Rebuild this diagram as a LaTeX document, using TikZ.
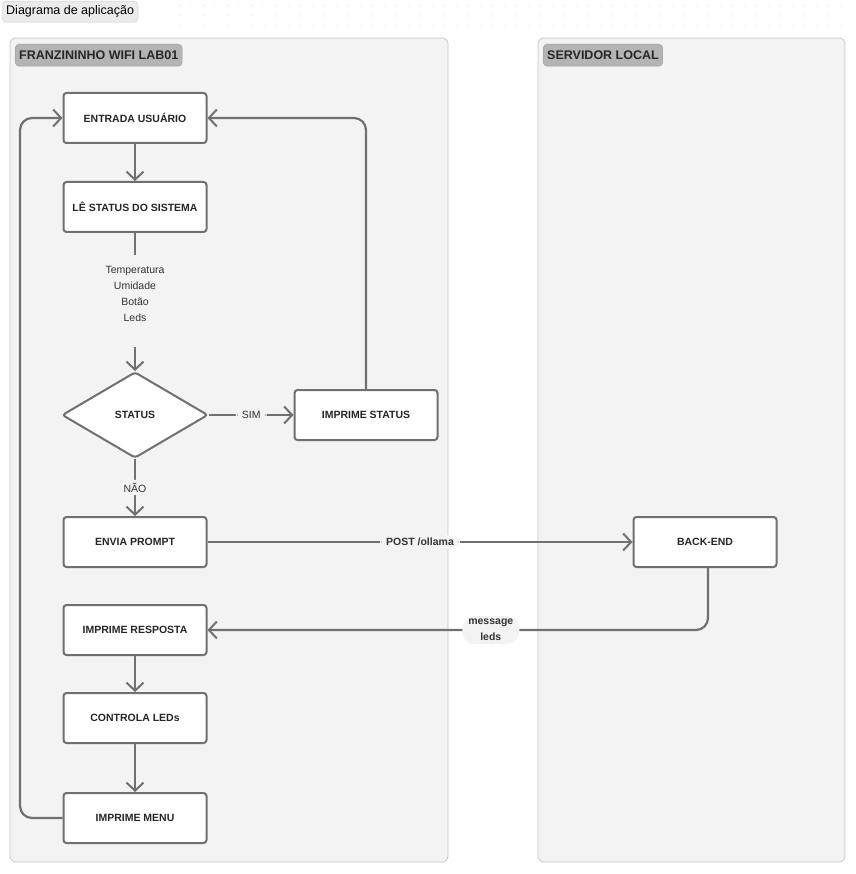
\documentclass[tikz,border=0pt]{standalone}
\usepackage{fontspec}
\setmainfont{Liberation Sans}
\usetikzlibrary{arrows.meta,shapes.geometric}
\definecolor{ln}{HTML}{707070}
\definecolor{pan}{HTML}{F3F3F3}
\definecolor{pb}{HTML}{C8C8C8}
\definecolor{tag}{HTML}{B4B4B4}
\begin{document}
\begin{tikzpicture}[x=1pt,y=-1pt,
  box/.style={draw=ln,line width=2pt,fill=white,rounded corners=3pt,minimum width=143pt,minimum height=50pt,font=\bfseries\fontsize{10.5}{12}\selectfont,text=black!85},
  con/.style={draw=ln,line width=2.2pt,rounded corners=12pt},
  arr/.style={con,-{Straight Barb[length=8pt,width=17pt,line width=2pt]}},
  lab/.style={fill=pan,font=\fontsize{10.5}{16}\selectfont,text=black!80,inner xsep=6pt,inner ysep=3pt,align=center},
  blab/.style={lab,font=\bfseries\fontsize{10.5}{16}\selectfont},
  panel/.style={draw=pb,fill=pan,rounded corners=6pt,line width=0.8pt},
  tagst/.style={draw=black!40,fill=tag,rounded corners=4pt,font=\bfseries\fontsize{12.5}{14}\selectfont,text=black!85,inner sep=4pt,anchor=north west,minimum height=22pt}]
\useasboundingbox (0,0) rectangle (855,874);
\fill[white] (0,0) rectangle (855,874);
\foreach \x in {180,192,...,850}{\foreach \y in {6,16,26}{\fill[black!25] (\x,\y) circle (0.5pt);}}
\node[draw=black!20,fill=black!8,rounded corners=4pt,anchor=north west,font=\fontsize{12.5}{14}\selectfont,inner sep=4pt,minimum height=21pt] (title) at (2,1) {Diagrama de aplicação};
\draw[panel] (10,38) rectangle (448,862);
\draw[panel] (538,38) rectangle (845,862);
\node[tagst] (t1) at (15,44) {FRANZININHO WIFI LAB01};
\node[tagst] (t2) at (543,44) {SERVIDOR LOCAL};
\node[box] (entrada) at (135,118) {ENTRADA USUÁRIO};
\node[box] (le) at (135,207) {LÊ STATUS DO SISTEMA};
\node[lab] (vars) at (135,294) {Temperatura\\Umidade\\Botão\\Leds};
\node[draw=ln,line width=2pt,fill=white,diamond,aspect=1.72,minimum width=146pt,minimum height=86pt,font=\bfseries\fontsize{10.5}{12}\selectfont,text=black!85,rounded corners=3pt] (status) at (135,415) {STATUS};
\node[box] (imps) at (366,415) {IMPRIME STATUS};
\node[box] (envia) at (135,542) {ENVIA PROMPT};
\node[box] (back) at (705,542) {BACK-END};
\node[box] (resp) at (135,630) {IMPRIME RESPOSTA};
\node[box] (ctrl) at (135,718) {CONTROLA LEDs};
\node[box] (menu) at (135,818) {IMPRIME MENU};
\coordinate (v1) at (135,347);
\draw[arr] (entrada) -- (le);
\draw[con] (le.south) -- ++(0,22);
\draw[arr] (v1) -- (status.north);
\draw[arr] (status.east) -- node[lab]{SIM} (imps.west);
\draw[arr] (status.south) -- node[lab]{NÃO} (envia.north);
\draw[arr] (imps.north) |- (entrada.east);
\draw[arr] (envia.east) -- node[blab]{POST /ollama} (back.west);
\draw[arr] ([xshift=3pt]back.south) |- node[blab,pos=0.717]{message\\leds} (resp.east);
\draw[arr] (resp) -- (ctrl);
\draw[arr] (ctrl) -- (menu);
\draw[arr] (menu.west) -- (20,818) -- (20,118) -- (entrada.west);
\end{tikzpicture}
\end{document}
